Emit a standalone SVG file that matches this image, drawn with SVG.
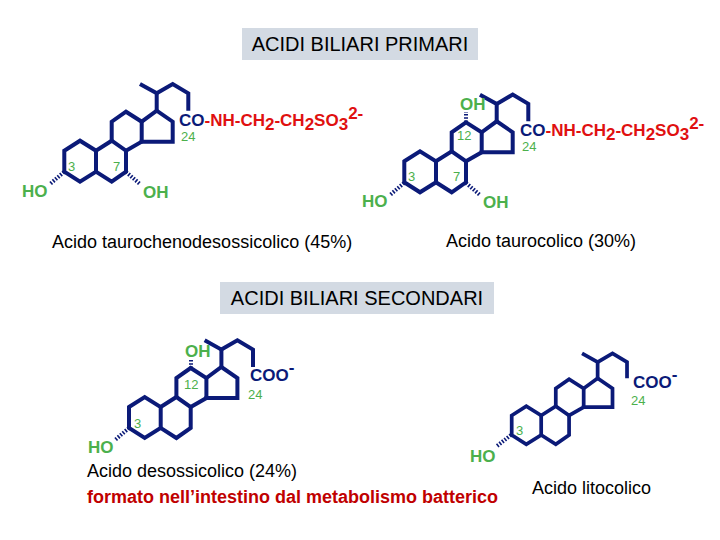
<svg xmlns="http://www.w3.org/2000/svg" width="720" height="540" viewBox="0 0 720 540">
<style>
.bond{fill:none;stroke:#0b1a78;stroke-width:4;stroke-linejoin:miter;stroke-linecap:square}
.hash{stroke:#0b1a78;stroke-width:4;stroke-dasharray:1.6,1.6;fill:none}
.t{font-family:"Liberation Sans",Arial,sans-serif}
.g{fill:#4cb04c;font-weight:bold;font-size:17px}
.n{fill:#4cb04c;font-size:13px}
.b{fill:#0b1a78;font-weight:bold;font-size:17px}
.r{fill:#e01010;font-weight:bold;font-size:17px}
.cap{fill:#000;font-size:18px}
.title{fill:#000;font-size:20px}
</style>
<defs>
<g id="skel">
<polygon class="bond" points="0,-21 15.7,-31 31.7,-21 31.7,0 15.7,10 0,0"/>
<polyline class="bond" points="31.7,-21 47.4,-31 61.7,-21 61.7,0 47.4,10 31.7,0"/>
<polyline class="bond" points="47.4,-31 47.4,-50 61.7,-60 77.4,-50 77.4,-30 61.7,-21"/>
<polyline class="bond" points="77.4,-50 92.4,-61 108.4,-50 108.4,-30 77.4,-30"/>
<polyline class="bond" points="92.4,-61 92.4,-78.4 77.4,-86.7"/>
<polyline class="bond" points="92.4,-78.4 108.4,-87.7 124,-78.4 124,-63"/>
</g>
</defs>
<g id="title1"><rect x="242" y="28" width="236" height="32" fill="#d3dae3"/><text class="t title" x="360" y="51" text-anchor="middle">ACIDI BILIARI PRIMARI</text></g>
<g id="title2"><rect x="220" y="282" width="274" height="32" fill="#d3dae3"/><text class="t title" x="357" y="305" text-anchor="middle">ACIDI BILIARI SECONDARI</text></g>

<g id="taurochenodeoxycholic">
<use href="#skel" x="64.3" y="171.7"/>
<line class="hash" x1="64" y1="172" x2="50" y2="184"/>
<line class="hash" x1="126" y1="172" x2="140" y2="184"/>
<text class="t" x="179" y="126"><tspan class="b">CO</tspan><tspan class="r">-NH-CH</tspan><tspan class="r" font-size="12" dy="4">2</tspan><tspan class="r" dy="-4">-CH</tspan><tspan class="r" font-size="12" dy="4">2</tspan><tspan class="r" dy="-4">SO</tspan><tspan class="r" font-size="12" dy="4">3</tspan><tspan class="r" font-size="12" dy="-11">2-</tspan></text>
<text class="t n" x="181" y="141">24</text>
<text class="t n" x="68" y="171">3</text>
<text class="t n" x="113" y="171">7</text>
<text class="t g" x="22" y="197">HO</text>
<text class="t g" x="143" y="198">OH</text>
<text class="t cap" x="52" y="248">Acido taurochenodesossicolico  (45%)</text>
</g>

<g id="taurocholic">
<use href="#skel" x="404.3" y="182.3"/>
<line class="hash" x1="404" y1="183" x2="390" y2="195"/>
<line class="hash" x1="466" y1="183" x2="480" y2="195"/>
<line class="hash" x1="466" y1="122" x2="466" y2="112"/>
<text class="t" x="520" y="136"><tspan class="b">CO</tspan><tspan class="r">-NH-CH</tspan><tspan class="r" font-size="12" dy="4">2</tspan><tspan class="r" dy="-4">-CH</tspan><tspan class="r" font-size="12" dy="4">2</tspan><tspan class="r" dy="-4">SO</tspan><tspan class="r" font-size="12" dy="4">3</tspan><tspan class="r" font-size="12" dy="-11">2-</tspan></text>
<text class="t n" x="522" y="151">24</text>
<text class="t n" x="408" y="181">3</text>
<text class="t n" x="453" y="181">7</text>
<text class="t n" x="457" y="140">12</text>
<text class="t g" x="460" y="110">OH</text>
<text class="t g" x="362" y="207">HO</text>
<text class="t g" x="483" y="208">OH</text>
<text class="t cap" x="446" y="247">Acido taurocolico (30%)</text>
</g>

<g id="deoxycholic">
<use href="#skel" x="129" y="428"/>
<line class="hash" x1="129" y1="428" x2="115" y2="440"/>
<line class="hash" x1="191" y1="368" x2="191" y2="359"/>
<text class="t" x="250" y="381"><tspan class="b">COO</tspan><tspan class="b" font-size="11" dy="-8">-</tspan></text>
<text class="t n" x="248" y="399">24</text>
<text class="t n" x="134" y="428">3</text>
<text class="t n" x="184" y="389">12</text>
<text class="t g" x="185" y="357">OH</text>
<text class="t g" x="88" y="453">HO</text>
<text class="t cap" x="87" y="477">Acido desossicolico (24%)</text>
<text class="t cap" x="87" y="503" style="fill:#c00000;font-weight:bold;font-size:18px">formato nell’intestino dal metabolismo batterico</text>
</g>

<g id="lithocholic">
<use href="#skel" transform="translate(511.7,435) scale(0.93)"/>
<line class="hash" x1="511" y1="435" x2="497" y2="446"/>
<text class="t" x="633" y="388"><tspan class="b">COO</tspan><tspan class="b" font-size="11" dy="-8">-</tspan></text>
<text class="t n" x="631" y="405">24</text>
<text class="t n" x="516" y="435">3</text>
<text class="t g" x="470" y="462">HO</text>
<text class="t cap" x="532" y="494">Acido litocolico</text>
</g>
<g id="connectors"/>
</svg>
